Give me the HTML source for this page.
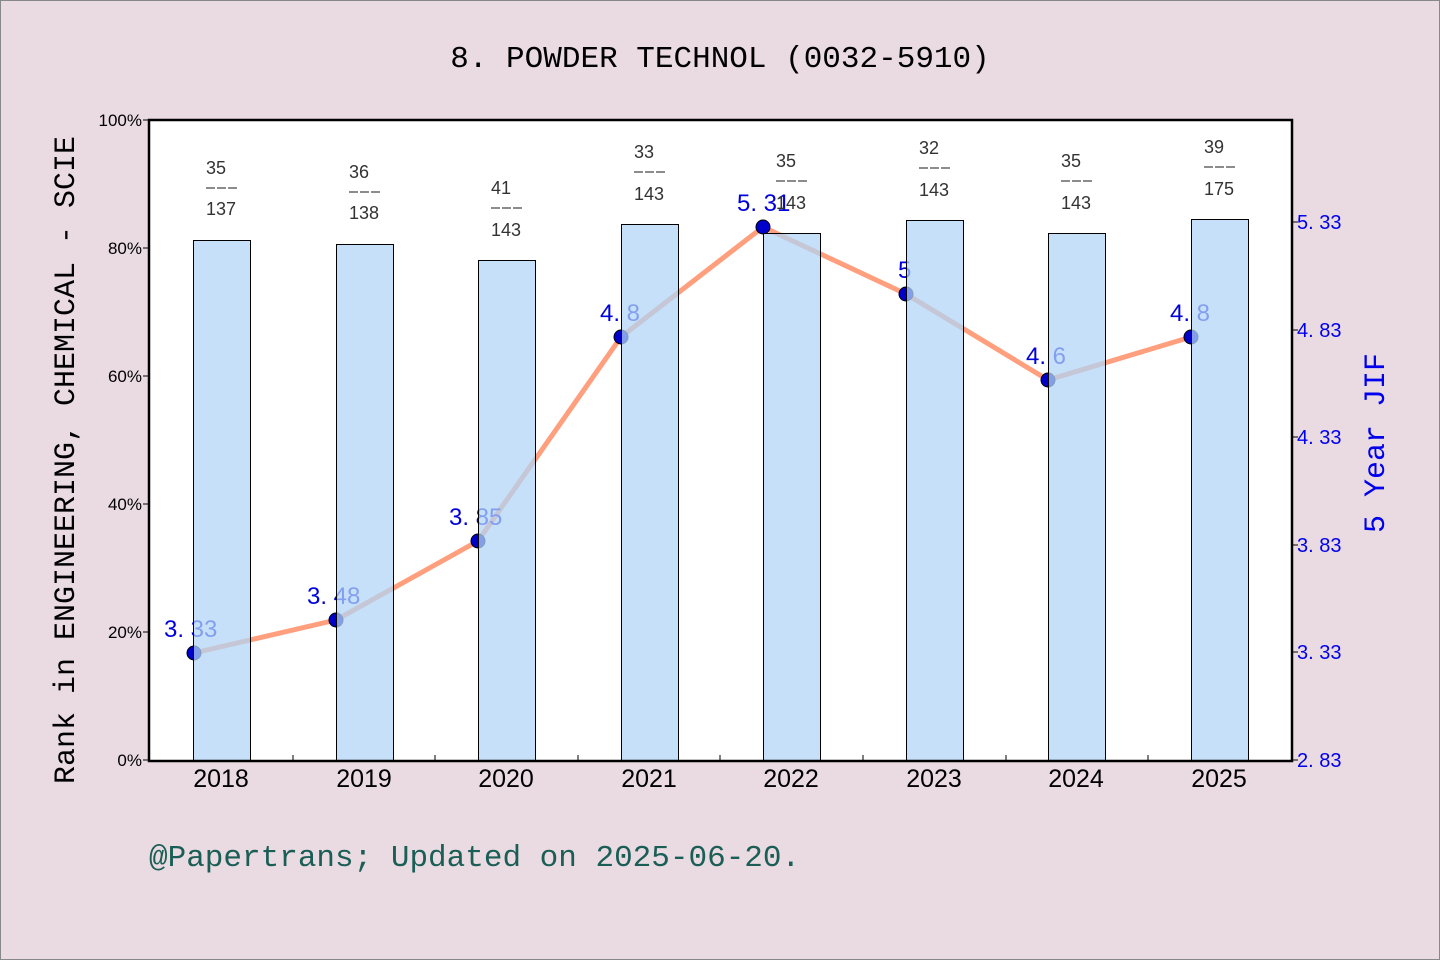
<!DOCTYPE html>
<html><head><meta charset="utf-8"><style>body{margin:0;background:#eadbe3}svg{display:block}</style></head><body>
<svg width="1440" height="960" xmlns="http://www.w3.org/2000/svg">
<rect x="0.5" y="0.5" width="1439" height="959" fill="#eadbe3" stroke="#888"/>
<text x="720" y="67" text-anchor="middle" font-family="Liberation Mono, monospace" font-size="31" fill="#000">8. POWDER TECHNOL (0032-5910)</text>
<rect x="149" y="120" width="1143" height="641" fill="#fff"/>
<polyline fill="none" stroke="#ff9f7d" stroke-width="5" stroke-linejoin="round" points="194,653 336,620 478,541 621,337 763,227 906,294 1048,380 1191,337"/>
<g fill="#0000cc" stroke="#000" stroke-width="1">
<circle cx="194" cy="653" r="7"/><circle cx="336" cy="620" r="7"/><circle cx="478" cy="541" r="7"/><circle cx="621" cy="337" r="7"/><circle cx="763" cy="227" r="7"/><circle cx="906" cy="294" r="7"/><circle cx="1048" cy="380" r="7"/><circle cx="1191" cy="337" r="7"/>
</g>
<g font-family="Liberation Sans, sans-serif" font-size="24" fill="#0000dd">
<text x="164" y="637">3. 33</text><text x="307" y="604">3. 48</text><text x="449" y="525">3. 85</text><text x="600" y="321">4. 8</text><text x="737" y="211">5. 31</text><text x="898" y="278">5</text><text x="1026" y="364">4. 6</text><text x="1170" y="321">4. 8</text>
</g>
<g fill="rgb(177,213,245)" fill-opacity="0.74" stroke="#000" stroke-width="1">
<rect x="193.5" y="240.5" width="57" height="520"/><rect x="336.5" y="244.5" width="57" height="516"/><rect x="478.5" y="260.5" width="57" height="500"/><rect x="621.5" y="224.5" width="57" height="536"/><rect x="763.5" y="233.5" width="57" height="527"/><rect x="906.5" y="220.5" width="57" height="540"/><rect x="1048.5" y="233.5" width="57" height="527"/><rect x="1191.5" y="219.5" width="57" height="541"/>
</g>
<g font-family="Liberation Sans, sans-serif" font-size="18" fill="#333" text-anchor="middle">
<text x="216" y="174">35</text><text x="221" y="215">137</text>
<text x="359" y="178">36</text><text x="364" y="219">138</text>
<text x="501" y="194">41</text><text x="506" y="236">143</text>
<text x="644" y="158">33</text><text x="649" y="200">143</text>
<text x="786" y="167">35</text><text x="791" y="209">143</text>
<text x="929" y="154">32</text><text x="934" y="196">143</text>
<text x="1071" y="167">35</text><text x="1076" y="209">143</text>
<text x="1214" y="153">39</text><text x="1219" y="195">175</text>
</g>
<g stroke="#666" stroke-width="1.5" stroke-dasharray="9,2">
<line x1="206" y1="188" x2="238" y2="188"/><line x1="349" y1="192" x2="381" y2="192"/><line x1="491" y1="208" x2="523" y2="208"/><line x1="634" y1="172" x2="666" y2="172"/><line x1="776" y1="181" x2="808" y2="181"/><line x1="919" y1="168" x2="951" y2="168"/><line x1="1061" y1="181" x2="1093" y2="181"/><line x1="1204" y1="167" x2="1236" y2="167"/>
</g>
<rect x="149" y="120" width="1143" height="641" fill="none" stroke="#000" stroke-width="2.5"/>
<g stroke="#000" stroke-width="1">
<line x1="143" y1="120" x2="149" y2="120"/><line x1="143" y1="248" x2="149" y2="248"/><line x1="143" y1="376" x2="149" y2="376"/><line x1="143" y1="504" x2="149" y2="504"/><line x1="143" y1="632" x2="149" y2="632"/><line x1="143" y1="760" x2="149" y2="760"/>
<line x1="1292" y1="222" x2="1298" y2="222"/><line x1="1292" y1="330" x2="1298" y2="330"/><line x1="1292" y1="437" x2="1298" y2="437"/><line x1="1292" y1="545" x2="1298" y2="545"/><line x1="1292" y1="652" x2="1298" y2="652"/><line x1="1292" y1="760" x2="1298" y2="760"/>
<line x1="293" y1="755" x2="293" y2="761"/><line x1="435" y1="755" x2="435" y2="761"/><line x1="578" y1="755" x2="578" y2="761"/><line x1="720" y1="755" x2="720" y2="761"/><line x1="863" y1="755" x2="863" y2="761"/><line x1="1006" y1="755" x2="1006" y2="761"/><line x1="1148" y1="755" x2="1148" y2="761"/>
</g>
<g font-family="Liberation Sans, sans-serif" font-size="17" fill="#000" text-anchor="end">
<text x="142" y="126">100%</text><text x="142" y="254">80%</text><text x="142" y="382">60%</text><text x="142" y="510">40%</text><text x="142" y="638">20%</text><text x="142" y="766">0%</text>
</g>
<g font-family="Liberation Sans, sans-serif" font-size="20" fill="#0000ee">
<text x="1297" y="229">5. 33</text><text x="1297" y="337">4. 83</text><text x="1297" y="444">4. 33</text><text x="1297" y="552">3. 83</text><text x="1297" y="659">3. 33</text><text x="1297" y="767">2. 83</text>
</g>
<g font-family="Liberation Sans, sans-serif" font-size="25" fill="#000" text-anchor="middle">
<text x="221" y="787">2018</text><text x="364" y="787">2019</text><text x="506" y="787">2020</text><text x="649" y="787">2021</text><text x="791" y="787">2022</text><text x="934" y="787">2023</text><text x="1076" y="787">2024</text><text x="1219" y="787">2025</text>
</g>
<text transform="translate(74,460) rotate(-90)" text-anchor="middle" font-family="Liberation Mono, monospace" font-size="30" fill="#000">Rank in ENGINEERING, CHEMICAL - SCIE</text>
<text transform="translate(1384,443) rotate(-90)" text-anchor="middle" font-family="Liberation Mono, monospace" font-size="30" fill="#0000ee">5 Year JIF</text>
<text x="149" y="866" font-family="Liberation Mono, monospace" font-size="31" fill="#1b5e55">@Papertrans; Updated on 2025-06-20.</text>
</svg>
</body></html>
